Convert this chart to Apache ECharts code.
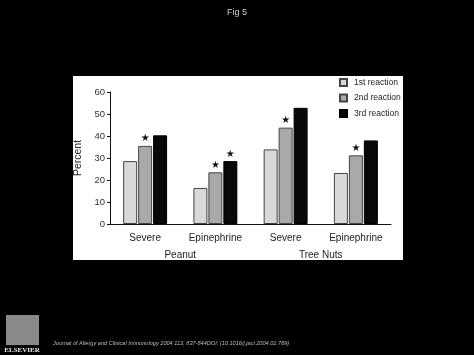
<!DOCTYPE html>
<html><head><meta charset="utf-8">
<script src="https://cdn.jsdelivr.net/npm/echarts@6/dist/echarts.min.js"></script>
<style>html,body{margin:0;padding:0;background:#000;}#c{width:474px;height:355px;}</style>
</head><body><div id="c"></div>
<script>
const categories = ['Severe', 'Epinephrine', 'Severe', 'Epinephrine'];
const groups = ['Peanut', 'Tree Nuts'];
const seriesNames = ['1st reaction', '2nd reaction', '3rd reaction'];
const first = [28.6, 16.4, 33.9, 23.2];
const second = [35.5, 23.5, 43.8, 31.2];
const third = [40.3, 28.6, 52.8, 38.0];
const starsSecond = [true, true, true, true];
const starsThird = [false, true, false, false];
const yTicks = [0, 10, 20, 30, 40, 50, 60];

const chart = echarts.init(document.getElementById('c'));
const FONT = 'Liberation Sans';
function withStars(vals, flags) {
  return vals.map((v, i) => flags[i] ? {value: v, label: {show: true}} : {value: v});
}
const starLabel = {show: false, position: 'top', distance: 2, formatter: '\u2605', fontSize: 10, color: '#111', fontFamily: 'DejaVu Sans'};
chart.setOption({
  backgroundColor: '#000',
  animation: false,
  title: {text: 'Fig 5', left: 'center', top: 3, textStyle: {color: '#cfcfcf', fontSize: 9, fontWeight: 'normal', fontFamily: FONT}},
  graphic: [
    {type: 'rect', z: -10, shape: {x: 73, y: 76, width: 330, height: 184}, style: {fill: '#fff'}},
    {type: 'rect', shape: {x: 6, y: 315, width: 33, height: 30}, style: {fill: '#8a8a8a'}},
    {type: 'text', style: {x: 22, y: 347, text: 'ELSEVIER', fill: '#e8e8e8', font: 'bold 7px "Liberation Serif"', align: 'center'}},
    {type: 'text', style: {x: 53, y: 340, text: 'Journal of Allergy and Clinical Immunology 2004 113, 837-844DOI: (10.1016/j.jaci.2004.01.769)', fill: '#bdbdbd', font: 'italic 5.6px "Liberation Sans"'}}
  ],
  legend: {
    orient: 'vertical', left: 339, top: 78, padding: 0, itemWidth: 7, itemHeight: 7, itemGap: 6.5,
    icon: 'rect', data: seriesNames,
    textStyle: {fontSize: 8.5, color: '#222', fontFamily: FONT, padding: [0, 0, 0, 2]}
  },
  grid: {left: 110, right: 83, top: 92, bottom: 131},
  xAxis: [
    {type: 'category', data: categories, axisLine: {lineStyle: {color: '#111', width: 1}}, axisTick: {show: false},
     axisLabel: {color: '#222', fontSize: 10, fontFamily: FONT, margin: 9}},
    {type: 'category', data: groups, position: 'bottom', offset: 17, axisLine: {show: false}, axisTick: {show: false},
     axisLabel: {color: '#222', fontSize: 10, fontFamily: FONT, margin: 9}}
  ],
  yAxis: {
    type: 'value', min: 0, max: 60, interval: 10, name: 'Percent', nameLocation: 'middle', nameGap: 26,
    nameTextStyle: {color: '#222', fontSize: 10.5, fontFamily: FONT},
    axisLine: {show: true, lineStyle: {color: '#111'}}, axisTick: {show: true, length: 3, lineStyle: {color: '#111'}},
    splitLine: {show: false},
    axisLabel: {color: '#333', fontSize: 9.5, fontFamily: FONT, margin: 5, formatter: v => yTicks.includes(v) ? String(v) : ''}
  },
  series: [
    {name: seriesNames[0], type: 'bar', data: first, barWidth: 14, barGap: '7%',
     itemStyle: {color: '#d8d8d8', borderColor: '#444', borderWidth: 1}},
    {name: seriesNames[1], type: 'bar', data: withStars(second, starsSecond), barWidth: 14, barGap: '7%', label: starLabel,
     itemStyle: {color: '#a9a9a9', borderColor: '#444', borderWidth: 1}},
    {name: seriesNames[2], type: 'bar', data: withStars(third, starsThird), barWidth: 14, barGap: '7%', label: starLabel,
     itemStyle: {color: '#080808', borderColor: '#000', borderWidth: 1}}
  ]
});
</script></body></html>
